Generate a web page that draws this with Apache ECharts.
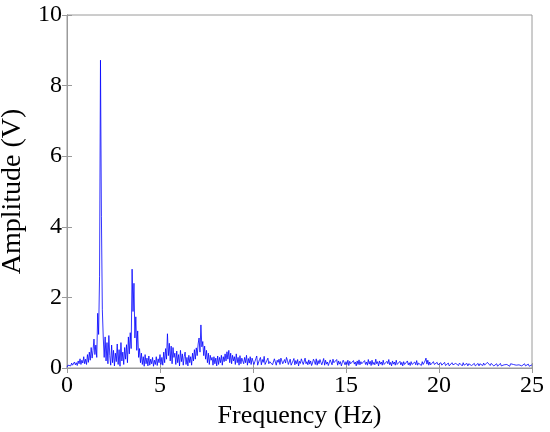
<!DOCTYPE html>
<html lang="en" style="height: 100%">
<head>
<meta charset="utf-8">
<title>Amplitude spectrum</title>
</head>
<body style="height: 100%; margin: 0; background: #fff">
<div id="container" style="width: 550px; height: 432px"></div>

<script type="text/javascript" src="https://cdn.jsdelivr.net/npm/echarts/dist/echarts.min.js"></script>

<script type="text/javascript">
// 0 - 9.95 Hz, one value every 0.05 Hz (one row = 0.5 Hz)
var lowStart = 0, lowStep = 0.05;
var lowAmp = [
    0.02, 0.08, 0.05, 0.12, 0.06, 0.14, 0.08, 0.11, 0.17, 0.09,
    0.15, 0.07, 0.20, 0.12, 0.26, 0.10, 0.22, 0.14, 0.32, 0.12,
    0.25, 0.10, 0.38, 0.16, 0.45, 0.22, 0.58, 0.28, 0.50, 0.82,
    0.38, 0.65, 0.30, 1.55, 0.95, 2.60, 8.72, 4.30, 1.65, 0.85,
    0.30, 0.88, 0.20, 0.72, 0.12, 0.92, 0.35, 0.08, 0.65, 0.15,
    0.50, 0.06, 0.42, 0.18, 0.68, 0.10, 0.52, 0.05, 0.72, 0.20,
    0.45, 0.10, 0.58, 0.25, 0.66, 0.15, 0.88, 0.40, 1.00, 0.55,
    2.80, 1.60, 2.40, 0.85, 1.45, 0.50, 1.05, 0.30, 0.55, 0.15,
    0.42, 0.10, 0.32, 0.05, 0.38, 0.12, 0.28, 0.06, 0.34, 0.08,
    0.25, 0.12, 0.30, 0.05, 0.22, 0.10, 0.32, 0.07, 0.26, 0.15,
    0.38, 0.10, 0.30, 0.08, 0.45, 0.15, 0.55, 0.25, 0.97, 0.35,
    0.70, 0.20, 0.62, 0.12, 0.58, 0.30, 0.42, 0.10, 0.48, 0.15,
    0.38, 0.06, 0.50, 0.18, 0.40, 0.08, 0.32, 0.45, 0.10, 0.30,
    0.06, 0.36, 0.15, 0.32, 0.08, 0.42, 0.20, 0.52, 0.25, 0.57,
    0.35, 0.68, 0.85, 0.45, 1.22, 0.60, 0.75, 0.35, 0.62, 0.25,
    0.50, 0.15, 0.42, 0.10, 0.36, 0.22, 0.30, 0.08, 0.32, 0.12,
    0.28, 0.06, 0.34, 0.10, 0.30, 0.15, 0.36, 0.08, 0.32, 0.18,
    0.40, 0.20, 0.46, 0.25, 0.50, 0.15, 0.42, 0.12, 0.36, 0.20,
    0.32, 0.10, 0.40, 0.15, 0.30, 0.08, 0.35, 0.12, 0.28, 0.32,
    0.12, 0.30, 0.15, 0.36, 0.08, 0.27, 0.14, 0.32, 0.10, 0.28
];

// 10 - 25 Hz, one value every 0.05 Hz (one row = 0.5 Hz)
var highStart = 10, highStep = 0.05;
var highAmp = [
    0.30, 0.10, 0.18, 0.26, 0.34, 0.08, 0.12, 0.24, 0.30, 0.09,
    0.24, 0.16, 0.33, 0.10, 0.07, 0.22, 0.28, 0.12, 0.18, 0.14,
    0.20, 0.09, 0.13, 0.26, 0.30, 0.08, 0.22, 0.16, 0.25, 0.10,
    0.28, 0.20, 0.12, 0.07, 0.24, 0.14, 0.30, 0.22, 0.10, 0.13,
    0.25, 0.08, 0.14, 0.20, 0.27, 0.09, 0.21, 0.12, 0.24, 0.06,
    0.19, 0.13, 0.26, 0.18, 0.10, 0.08, 0.28, 0.12, 0.18, 0.09,
    0.23, 0.11, 0.20, 0.07, 0.14, 0.25, 0.19, 0.10, 0.26, 0.08,
    0.21, 0.12, 0.24, 0.16, 0.09, 0.14, 0.27, 0.08, 0.22, 0.11,
    0.17, 0.07, 0.12, 0.23, 0.20, 0.09, 0.25, 0.15, 0.10, 0.13,
    0.24, 0.08, 0.20, 0.11, 0.18, 0.06, 0.15, 0.22, 0.26, 0.09,
    0.18, 0.10, 0.22, 0.07, 0.19, 0.12, 0.16, 0.08, 0.21, 0.11,
    0.17, 0.06, 0.20, 0.10, 0.23, 0.09, 0.18, 0.12, 0.15, 0.07,
    0.21, 0.10, 0.17, 0.08, 0.24, 0.11, 0.19, 0.07, 0.22, 0.10,
    0.16, 0.09, 0.25, 0.12, 0.18, 0.06, 0.20, 0.11, 0.17, 0.08,
    0.22, 0.10, 0.15, 0.07, 0.19, 0.12, 0.24, 0.09, 0.16, 0.06,
    0.20, 0.11, 0.17, 0.08, 0.22, 0.10, 0.15, 0.07, 0.19, 0.09,
    0.16, 0.06, 0.18, 0.10, 0.14, 0.08, 0.20, 0.09, 0.15, 0.07,
    0.18, 0.10, 0.13, 0.06, 0.17, 0.09, 0.21, 0.08, 0.14, 0.10,
    0.12, 0.07, 0.18, 0.10, 0.15, 0.20, 0.28, 0.11, 0.22, 0.08,
    0.17, 0.09, 0.14, 0.06, 0.18, 0.10, 0.13, 0.07, 0.16, 0.09,
    0.12, 0.06, 0.15, 0.08, 0.13, 0.10, 0.16, 0.07, 0.12, 0.09,
    0.14, 0.06, 0.11, 0.08, 0.15, 0.09, 0.12, 0.05, 0.13, 0.08,
    0.11, 0.07, 0.14, 0.09, 0.12, 0.06, 0.15, 0.08, 0.11, 0.10,
    0.13, 0.06, 0.12, 0.09, 0.14, 0.07, 0.11, 0.08, 0.13, 0.06,
    0.10, 0.08, 0.13, 0.06, 0.12, 0.09, 0.11, 0.07, 0.14, 0.08,
    0.12, 0.09, 0.16, 0.20, 0.11, 0.07, 0.13, 0.08, 0.10, 0.06,
    0.11, 0.07, 0.12, 0.05, 0.10, 0.08, 0.13, 0.06, 0.11, 0.07,
    0.09, 0.12, 0.06, 0.10, 0.08, 0.11, 0.05, 0.12, 0.07, 0.09,
    0.10, 0.06, 0.11, 0.08, 0.12, 0.05, 0.09, 0.07, 0.11, 0.06,
    0.10, 0.08, 0.12, 0.06, 0.09, 0.07, 0.11, 0.05, 0.10, 0.08,
    0.09
];

var xTicks = [0, 5, 10, 15, 20, 25];
var yTicks = [0, 2, 4, 6, 8, 10];

// pair every amplitude with its frequency
var points = [];
lowAmp.forEach(function (v, i) {
    points.push([+(lowStart + i * lowStep).toFixed(2), v]);
});
highAmp.forEach(function (v, i) {
    points.push([+(highStart + i * highStep).toFixed(2), v]);
});

var serif = '"Liberation Serif", "DejaVu Serif", serif';
var frameColor = '#9a9a9a';

var dom = document.getElementById('container');
var myChart = echarts.init(dom, null, { renderer: 'canvas' });

var option = {
    animation: false,
    backgroundColor: '#ffffff',
    grid: {
        left: 67,
        right: 18,
        top: 15,
        bottom: 64,
        containLabel: false,
        outerBoundsMode: 'none',
        show: true,
        borderColor: frameColor,
        borderWidth: 1
    },
    xAxis: [{
        type: 'value',
        min: xTicks[0],
        max: xTicks[xTicks.length - 1],
        interval: xTicks[1] - xTicks[0],
        name: 'Frequency (Hz)',
        nameLocation: 'middle',
        nameGap: 30,
        nameTextStyle: { fontFamily: serif, fontSize: 26, color: '#000' },
        axisLine: { show: true, lineStyle: { color: frameColor } },
        axisTick: { show: true, inside: true, length: 5, lineStyle: { color: frameColor } },
        axisLabel: { fontFamily: serif, fontSize: 24, color: '#000', margin: 6 },
        splitLine: { show: false }
    }, {
        type: 'value',
        position: 'top',
        min: xTicks[0],
        max: xTicks[xTicks.length - 1],
        interval: xTicks[1] - xTicks[0],
        axisLine: { show: true, lineStyle: { color: frameColor } },
        axisTick: { show: true, inside: true, length: 5, lineStyle: { color: frameColor } },
        axisLabel: { show: false },
        splitLine: { show: false }
    }],
    yAxis: [{
        type: 'value',
        min: yTicks[0],
        max: yTicks[yTicks.length - 1],
        interval: yTicks[1] - yTicks[0],
        name: 'Amplitude (V)',
        nameLocation: 'middle',
        nameGap: 39,
        nameTextStyle: { fontFamily: serif, fontSize: 28, color: '#000' },
        axisLine: { show: true, lineStyle: { color: frameColor } },
        axisTick: { show: true, inside: true, length: 5, lineStyle: { color: frameColor } },
        axisLabel: { fontFamily: serif, fontSize: 24, color: '#000', margin: 5 },
        splitLine: { show: false }
    }, {
        type: 'value',
        position: 'right',
        min: yTicks[0],
        max: yTicks[yTicks.length - 1],
        interval: yTicks[1] - yTicks[0],
        axisLine: { show: true, lineStyle: { color: frameColor } },
        axisTick: { show: true, inside: true, length: 5, lineStyle: { color: frameColor } },
        axisLabel: { show: false },
        splitLine: { show: false }
    }],
    series: [{
        name: 'Amplitude',
        type: 'line',
        data: points,
        showSymbol: false,
        symbol: 'none',
        lineStyle: { color: '#0000ff', width: 0.8 },
        itemStyle: { color: '#0000ff' }
    }]
};

myChart.setOption(option);
window.addEventListener('resize', myChart.resize);
</script>
</body>
</html>
